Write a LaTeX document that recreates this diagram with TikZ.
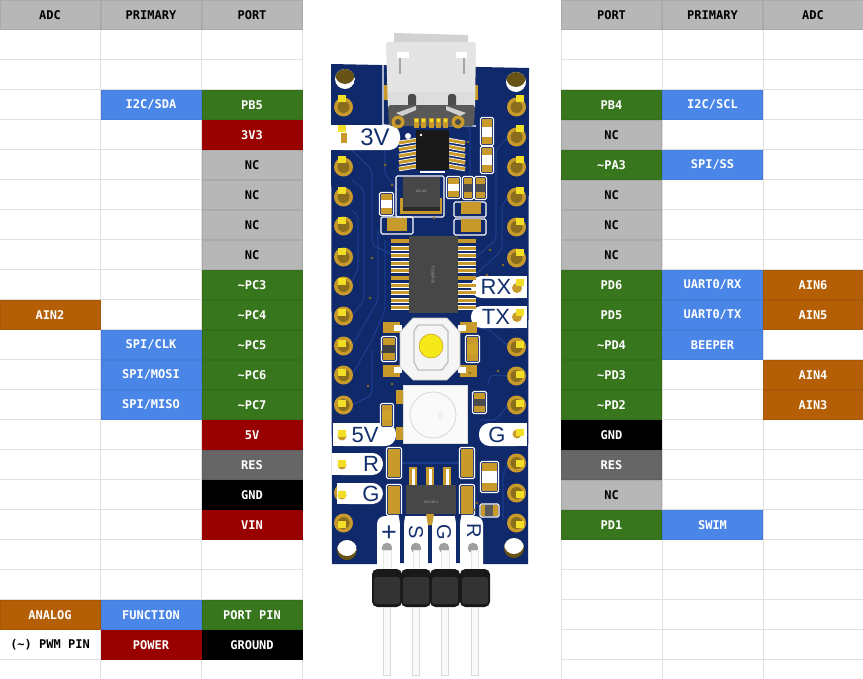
\documentclass[tikz,border=0pt]{standalone}
\usepackage{fontspec}
\setmainfont{Liberation Sans}
\setmonofont{DejaVu Sans Mono}
\definecolor{gridline}{HTML}{E0E0E0}
\definecolor{ncgray}{HTML}{B7B7B7}
\definecolor{portgreen}{HTML}{38761D}
\definecolor{powerred}{HTML}{990000}
\definecolor{funcblue}{HTML}{4A86E8}
\definecolor{adcorange}{HTML}{B45F06}
\definecolor{resgray}{HTML}{666666}
\definecolor{pcbblue}{HTML}{10296B}
\definecolor{tracecol}{HTML}{1B3C8A}
\definecolor{padgold}{HTML}{C79A2B}
\definecolor{holedark}{HTML}{8A6E1E}
\definecolor{pinyellow}{HTML}{F2DF25}
\definecolor{icgray}{HTML}{474747}
\definecolor{silkblue}{HTML}{14306E}
\definecolor{usbsilver}{HTML}{E4E4E4}
\def\til{\textasciitilde}
\tikzset{
	cell/.style={inner sep=0pt,outer sep=0pt,minimum width=75pt,minimum height=21.9pt,line width=.75pt,
		font=\ttfamily\bfseries\fontsize{9}{9}\selectfont,text=white},
	nc/.style={cell,fill=ncgray,draw=ncgray!93!black,text=black},
	portpin/.style={cell,fill=portgreen,draw=portgreen!93!black},
	func/.style={cell,fill=funcblue,draw=funcblue!93!black},
	analog/.style={cell,fill=adcorange,draw=adcorange!93!black},
	power/.style={cell,fill=powerred,draw=powerred},
	ground/.style={cell,fill=black,draw=black},
	res/.style={cell,fill=resgray,draw=resgray!93!black},
	pwm/.style={cell,text=black},
	silk/.style={fill=white,rounded corners=8pt},
	silktext/.style={inner sep=0pt,text=silkblue,font=\fontsize{16.5}{18}\selectfont},
	headertext/.style={rotate=-90,inner sep=0pt,text=silkblue,font=\fontsize{15}{15}\selectfont},
	gold/.style={fill=padgold},
	trace/.style={draw=tracecol,line width=.9pt,rounded corners=3pt},
	outline/.style={draw=white,line width=.8pt,rounded corners=1pt},
}
% small two terminal part
\newcommand{\smdpart}[5]{
	\draw[outline,fill=pcbblue] (#1-1.5,#2-1.5) rectangle (#3+1.5,#4+1.5);
	\fill[gold] (#1,#2) rectangle (#3,#4);
	\fill[#5] (#1,#2+.3*#4-.3*#2) rectangle (#3,#4-.3*#4+.3*#2);
}
\begin{document}
\begin{tikzpicture}[x=.75pt,y=-.75pt]
	\useasboundingbox (0,0) rectangle (863,678);
	\fill[white] (0,0) rectangle (863,678);

	% grid
	\foreach \k in {0,...,21}{
		\draw[gridline,line width=.75pt] (0,29.5+30*\k) -- (302.5,29.5+30*\k);
		\draw[gridline,line width=.75pt] (561,29.5+30*\k) -- (863,29.5+30*\k);
	}
	\foreach \xv in {100.5,201.5,302.5,561,662,763}
		\draw[gridline,line width=.75pt] (\xv,0) -- (\xv,678);

	% table cells, one list per column
	\foreach \colname/\colx/\entries in {
		ladc/50/{-1/ADC/nc,9/AIN2/analog,19/ANALOG/analog,20/{(\til) PWM PIN}/pwm},
		lprim/151/{-1/PRIMARY/nc,2/{I2C/SDA}/func,10/{SPI/CLK}/func,11/{SPI/MOSI}/func,12/{SPI/MISO}/func,19/FUNCTION/func,20/POWER/power},
		lport/252/{-1/PORT/nc,2/PB5/portpin,3/3V3/power,4/NC/nc,5/NC/nc,6/NC/nc,7/NC/nc,8/\til PC3/portpin,9/\til PC4/portpin,10/\til PC5/portpin,11/\til PC6/portpin,12/\til PC7/portpin,13/5V/power,14/RES/res,15/GND/ground,16/VIN/power,19/PORT PIN/portpin,20/GROUND/ground},
		rport/611.5/{-1/PORT/nc,2/PB4/portpin,3/NC/nc,4/\til PA3/portpin,5/NC/nc,6/NC/nc,7/NC/nc,8/PD6/portpin,9/PD5/portpin,10/\til PD4/portpin,11/\til PD3/portpin,12/\til PD2/portpin,13/GND/ground,14/RES/res,15/NC/nc,16/PD1/portpin},
		rprim/712.5/{-1/PRIMARY/nc,2/{I2C/SCL}/func,4/{SPI/SS}/func,8/{UART0/RX}/func,9/{UART0/TX}/func,10/BEEPER/func,16/SWIM/func},
		radc/813/{-1/ADC/nc,8/AIN6/analog,9/AIN5/analog,11/AIN4/analog,12/AIN3/analog}%
	}{
		\foreach \row/\txt/\sty in \entries
			\node[\sty] (\colname-\row) at (\colx,45+30*\row) {\txt};
	}

	% board
	\fill[pcbblue] (331,64) -- (529,68) -- (528,564) -- (332,564) -- cycle;

	% traces
	\draw[trace] (352,150) -- (372,170) -- (372,245) -- (408,262);
	\draw[trace] (352,180) -- (364,190) -- (364,300) -- (352,316);
	\draw[trace] (352,210) -- (358,216) -- (358,270) -- (350,285);
	\draw[trace] (378,230) -- (378,300) -- (352,346);
	\draw[trace] (385,240) -- (385,310) -- (372,340) -- (352,375);
	\draw[trace] (372,350) -- (372,395) -- (352,405);
	\draw[trace] (508,137) -- (496,150) -- (496,240) -- (470,262);
	\draw[trace] (508,197) -- (502,205) -- (502,250) -- (470,280);
	\draw[trace] (508,346) -- (490,330) -- (465,325);
	\draw[trace] (508,376) -- (490,375) -- (488,385);
	\draw[trace] (508,405) -- (496,420) -- (480,420);
	\draw[trace] (508,463) -- (503,475) -- (503,520);
	\draw[trace] (398,190) -- (385,175) -- (385,140);
	\draw[trace] (450,120) -- (470,128) -- (470,175);
	\draw[trace] (401,463) -- (460,463);

	% pin pads and mounting holes
	\foreach \yv in {107,137,167,197,226,257,286,316,346,375,405,434,463,493,523}{
		\fill[gold] (343.5,\yv) circle [radius=9.5];
		\fill[holedark] (343.5,\yv) circle [radius=6];
	}
	\foreach \yv in {107,137,167,197,227,258,287,316,347,376,405,433,463,493,523}{
		\fill[gold] (516.5,\yv) circle [radius=9.5];
		\fill[holedark] (516.5,\yv) circle [radius=6];
	}
	\foreach \xv/\yv/\shade in {345/79/-5,516/82/-5}{
		\begin{scope}
			\clip (\xv,\yv) circle [radius=10];
			\fill[white] (\xv,\yv) circle [radius=10];
			\fill[holedark!75!black] (\xv,\yv+\shade) circle [radius=10];
		\end{scope}
	}
	\foreach \xv/\yv/\shade in {347/550/-4,514/548/-4}{
		\begin{scope}
			\clip (\xv,\yv) circle [radius=10];
			\fill[holedark!75!black] (\xv,\yv) circle [radius=10];
			\fill[white] (\xv,\yv+\shade) circle [radius=10];
		\end{scope}
	}

	% silk tabs with the labels
	\fill[silk] (331,125) rectangle (400,150);
	\fill[white] (331,125) rectangle (360,150);
	\fill[silk] (471,276) rectangle (527,298);
	\fill[white] (500,276) rectangle (527,298);
	\fill[silk] (471,306) rectangle (527,328);
	\fill[white] (500,306) rectangle (527,328);
	\fill[silk] (333,423) rectangle (396,446);
	\fill[white] (333,423) rectangle (365,446);
	\fill[silk] (479,423) rectangle (527,446);
	\fill[white] (500,423) rectangle (527,446);
	\fill[silk] (332,453) rectangle (383,475);
	\fill[white] (332,453) rectangle (360,475);
	\fill[silk] (337,483) rectangle (383,504);
	\fill[white] (337,483) rectangle (360,504);

	\node[silktext,font=\fontsize{18}{18}\selectfont] (lbl3v) at (375,137.5) {3V};
	\node[silktext] (lblrx) at (496,287) {RX};
	\node[silktext] (lbltx) at (496,317) {TX};
	\node[silktext] (lbl5v) at (365,435) {5V};
	\node[silktext] (lblgr) at (497,435) {G};
	\node[silktext] (lblrl) at (371,464) {R};
	\node[silktext] (lblgl) at (371,494) {G};

	% pads left bare in the tabs
	\fill[gold] (342,436) circle [radius=4.5];
	\fill[gold] (342,465) circle [radius=4.5];
	\fill[gold] (342,495) circle [radius=4.5];
	\fill[gold] (341,133) rectangle (347,143);
	\fill[gold] (517,288) circle [radius=5];
	\fill[gold] (517,317) circle [radius=5];
	\fill[gold] (517,434) circle [radius=4.5];

	% pins, they lean with the view
	\foreach \yv in {107,137,167,197,226,257,286,316,346,375,405,434,463,493,523}{
		\pgfmathsetmacro{\py}{\yv-9+(\yv-107)*.026}
		\fill[pinyellow] (337.5,\py-3.5) rectangle (345.5,\py+3.5);
	}
	\foreach \yv in {107,137,167,197,227,258,287,316,347,376,405,433,463,493,523}{
		\pgfmathsetmacro{\py}{\yv-9+(\yv-107)*.026}
		\fill[pinyellow] (516,\py-3.5) rectangle (523.5,\py+3.5);
	}

	% usb connector
	\draw[white,line width=.8pt] (383,64) -- (383,125) -- (476,126);
	\fill[gold] (384,85) rectangle (388,100);
	\fill[gold] (474,85) rectangle (478,100);
	\fill[gray!35] (394,33) -- (468,35) -- (468,44) -- (394,44) -- cycle;
	\fill[usbsilver,rounded corners=2pt] (386,42) -- (476,42) -- (475,110) -- (388,110) -- cycle;
	\fill[white] (397,52) rectangle (409,58);
	\fill[gray!70] (399,58) rectangle (401,74);
	\fill[white] (456,52) rectangle (467,58);
	\fill[gray!70] (463,58) rectangle (465,74);
	\fill[usbsilver!93!gray] (389,92) rectangle (474,107);
	\fill[black!70,rounded corners=2pt] (408,94) rectangle (416,108);
	\fill[black!70,rounded corners=2pt] (448,94) rectangle (456,108);
	\fill[black!65,rounded corners=2pt] (388,105) -- (475,105) -- (474,126) -- (389,126) -- cycle;
	\fill[usbsilver!80!gray] (396,113) -- (416,106) -- (416,110) -- (402,116) -- cycle;
	\fill[usbsilver!80!gray] (446,106) -- (466,113) -- (460,116) -- (446,110) -- cycle;
	\fill[gold] (398,122) circle [radius=6.5];
	\fill[black!70] (398,122) circle [radius=3];
	\fill[gold] (458,122) circle [radius=6.5];
	\fill[black!70] (458,122) circle [radius=3];
	\foreach \xv in {414,421,429,436,443}{
		\fill[gold] (\xv,118) rectangle (\xv+5,128);
		\fill[pinyellow] (\xv+1,119) rectangle (\xv+4,122);
	}

	% chip below the usb
	\foreach \k in {0,...,4}{
		\draw[white,line width=3.4pt] (399,143+6.5*\k) -- (417,140+6.5*\k);
		\draw[draw=padgold,line width=2.2pt] (399,143+6.5*\k) -- (417,140+6.5*\k);
		\draw[white,line width=3.4pt] (465,143+6.5*\k) -- (448,140+6.5*\k);
		\draw[draw=padgold,line width=2.2pt] (465,143+6.5*\k) -- (448,140+6.5*\k);
	}
	\fill[black!90] (416,130) rectangle (449,170);
	\fill[white] (421,135) circle [radius=1.3];
	\fill[white] (408,136) circle [radius=3];
	\draw[white,line width=.8pt] (420,172) -- (445,172);

	\smdpart{482}{119}{492}{144}{white}
	\smdpart{482}{148}{492}{172}{white}

	% power section
	\draw[outline] (396,176) -- (396,217) -- (444,217) -- (444,176) -- cycle;
	\fill[gold] (400,198) rectangle (442,214);
	\fill[icgray] (403,177) rectangle (440,208);
	\fill[icgray!60!black] (403,207) rectangle (440,211);
	\node[inner sep=0pt,text=gray!60,font=\fontsize{2.5}{3}\selectfont] (coilmark) at (421,191) {100 UH};
	\smdpart{448}{178}{459}{197}{white}
	\smdpart{464}{178}{472}{198}{black!70}
	\smdpart{476}{178}{485}{198}{black!70}
	\smdpart{381}{194}{392}{214}{white}
	\draw[outline] (454,202) rectangle (486,217);
	\fill[gold] (461,202) rectangle (481,214);
	\draw[outline] (454,219) rectangle (486,235);
	\fill[gold] (461,219) rectangle (481,232);
	\draw[outline] (381,217) rectangle (413,234);
	\fill[gold] (387,218) rectangle (407,231);

	% main ic
	\foreach \k in {0,...,9}{
		\draw[white,line width=3.6pt] (391,241+7.4*\k) -- (410,241+7.4*\k);
		\draw[draw=padgold,line width=2.4pt] (391,241+7.4*\k) -- (410,241+7.4*\k);
		\draw[white,line width=3.6pt] (457,241+7.4*\k) -- (476,241+7.4*\k);
		\draw[draw=padgold,line width=2.4pt] (457,241+7.4*\k) -- (476,241+7.4*\k);
	}
	\fill[icgray] (409,236) rectangle (458,313);
	\node[rotate=-90,inner sep=0pt,text=gray!70,font=\fontsize{3}{3}\selectfont] (icmark) at (433,275) {TSSOP20};

	% push button
	\fill[gold] (383,322) rectangle (400,333);
	\fill[gold] (460,322) rectangle (477,333);
	\fill[gold] (383,365) rectangle (400,377);
	\fill[gold] (460,365) rectangle (477,377);
	\fill[white] (394,325) rectangle (402,331);
	\fill[white] (458,325) rectangle (466,331);
	\fill[white] (394,367) rectangle (402,373);
	\fill[white] (458,367) rectangle (466,373);
	\fill[white!92!gray,draw=gray!50] (413,318) -- (447,318) -- (460,332) -- (460,367) -- (447,380) -- (413,380) -- (400,367) -- (400,332) -- cycle;
	\draw[gray!50,line width=1pt] (418,325) -- (442,325) -- (448,331) -- (448,362) -- (442,370) -- (418,370) -- (414,362) -- (414,331) -- cycle;
	\fill[pinyellow!70!yellow] (431,346) circle [radius=12];
	\draw[padgold,line width=.4pt] (431,346) circle [radius=12];
	\smdpart{383}{338}{395}{360}{black!75}
	\smdpart{467}{337}{478}{361}{padgold!90!yellow}

	% rgb led
	\fill[gold] (396,390) rectangle (404,404);
	\fill[gold] (396,427) rectangle (404,440);
	\fill[gold] (461,390) rectangle (468,404);
	\fill[gold] (461,427) rectangle (468,440);
	\fill[white!96!gray,draw=gray!25] (403,385) rectangle (467,443);
	\draw[gray!35,line width=.5pt] (433,415) circle [radius=23];
	\fill[gray!12] (438,412) rectangle (443,419);
	\smdpart{474}{393}{485}{412}{black!70}
	\smdpart{382}{405}{392}{426}{padgold!90!yellow}

	% output section
	\smdpart{388}{449}{400}{477}{padgold}
	\smdpart{388}{486}{400}{514}{padgold}
	\smdpart{461}{449}{473}{477}{padgold}
	\smdpart{461}{486}{473}{514}{padgold}
	\foreach \xv in {409,426,443}{
		\fill[gold] (\xv,467) rectangle (\xv+8,486);
		\fill[white] (\xv+2.5,469) rectangle (\xv+5.5,486);
	}
	\fill[icgray] (406,485) rectangle (456,514);
	\node[inner sep=0pt,text=gray!70,font=\fontsize{2.5}{3}\selectfont] (sotmark) at (431,502) {SOT-89-3};
	\smdpart{482}{463}{497}{491}{white}
	\draw[outline,fill=pcbblue] (480,504) rectangle (499,517);
	\fill[gold] (481,505) rectangle (498,516);
	\fill[black!65] (485,505) rectangle (493,516);

	% vias
	\foreach \xv/\yv in {385/165,392/185,434/218,468/142,372/258,490/250,503/265,487/275,370/298,368/386,392/384,470/373,498/371,477/503,462/525,474/510,411/524,455/516,456/535,381/352}
		\fill[holedark] (\xv,\yv) circle [radius=1.3];

	% header tabs
	\fill[white,rounded corners=6pt] (377,516) -- (483,516) -- (483,572) -- (377,572) -- cycle;
	\foreach \xv in {402,430,458}{
		\fill[pcbblue] (\xv-3.5,514) -- (\xv+3.5,514) -- (\xv+1.8,524) -- (\xv+1.8,563) -- (\xv-1.8,563) -- (\xv-1.8,524) -- cycle;
	}
	\fill[gold] (426,514) -- (434,514) -- (432,525) -- (428,525) -- cycle;
	\node[headertext,font=\fontsize{20}{20}\selectfont] (lblplus) at (388,532) {+};
	\node[headertext] (lbls) at (416,532) {S};
	\node[headertext] (lblg) at (444,532) {G};
	\node[headertext] (lblr) at (474,531) {R};
	\foreach \xv in {387,416,444,473}
		\fill[gray!75] (\xv,548) circle [radius=5.3];

	% pins above the housing
	\foreach \xv/\wv in {387/8,416/6.5,445/8,475/7}{
		\fill[white!96!gray,draw=gray!20,line width=.3pt] (\xv-\wv/2,550) rectangle (\xv+\wv/2,572);
	}

	% header housing
	\foreach \xv in {387,416,445,475}{
		\fill[black!90,rounded corners=4pt] (\xv-15,569) rectangle (\xv+15,607);
		\fill[black!80,rounded corners=2pt] (\xv-13,577) rectangle (\xv+13,604);
		\fill[white!96!gray,draw=gray!30,line width=.3pt] (\xv-3.5,607) rectangle (\xv+3.5,675);
	}
\end{tikzpicture}
\end{document}
